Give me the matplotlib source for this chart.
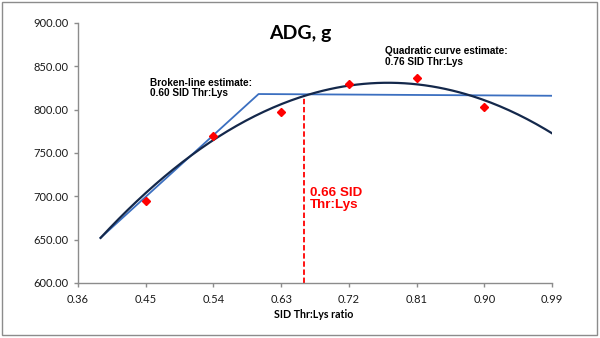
import numpy as np
import matplotlib.pyplot as plt
from matplotlib.patches import Rectangle

# Observed ADG at each SID Thr:Lys ratio
ratio = [0.45, 0.54, 0.63, 0.72, 0.81, 0.90]
adg = [695, 769, 797, 830, 836, 803]

# Broken-line fit (start, breakpoint, end)
bl_x = [0.39, 0.60, 0.99]
bl_y = [652, 818, 816]

# Quadratic fit in vertex form
quad_peak_x = 0.772
quad_peak_y = 831
quad_curv = -1227
quad_range = (0.39, 0.99)

optimum = 0.66
xticks = [0.36, 0.45, 0.54, 0.63, 0.72, 0.81, 0.90, 0.99]
yticks = [600, 650, 700, 750, 800, 850, 900]

fig = plt.figure(figsize=(6, 3.38), dpi=100)
ax = fig.add_axes([0.13, 0.163, 0.79, 0.769])

qx = np.linspace(*quad_range, 200)
qy = quad_curv * (qx - quad_peak_x) ** 2 + quad_peak_y

ax.plot(bl_x, bl_y, color='#3b6fc0', lw=1.3, zorder=2)
ax.plot(qx, qy, color='#14284b', lw=1.6, zorder=3)
ax.plot(ratio, adg, 'D', color='#ff0000', ms=4.2, mec='#ff0000', zorder=4)

# vertical marker at the combined estimate, up to the plateau
ax.plot([optimum, optimum], [600, np.interp(optimum, bl_x, bl_y)],
        color='#ff0000', lw=1.3, ls=(0, (3, 1.5)), zorder=1)

ax.set_xlim(0.36, 0.99)
ax.set_ylim(600, 900)
ax.set_xticks(xticks)
ax.set_xticklabels([f'{t:.2f}' for t in xticks])
ax.set_yticks(yticks)
ax.set_yticklabels([f'{t:.2f}' for t in yticks])

for s in ['top', 'right']:
    ax.spines[s].set_visible(False)
for s in ['left', 'bottom']:
    ax.spines[s].set_color('#8c8c8c')
    ax.spines[s].set_linewidth(1.0)
ax.tick_params(colors='#8c8c8c', length=3, width=1.0, labelcolor='#1a1a1a',
               labelsize=8)
for lab in ax.get_xticklabels() + ax.get_yticklabels():
    lab.set_family('Lato')
ax.tick_params(axis='x', pad=5)

fig.text(0.5, 0.902, 'ADG, g', ha='center', va='center', fontsize=14,
         fontweight='bold', family='Lato')
fig.text(0.523, 0.071, 'SID Thr:Lys ratio', ha='center', va='center',
         fontsize=7.7, fontweight='bold', family='Lato')

ax.text(0.456, 837, 'Broken-line estimate:\n0.60 SID Thr:Lys', ha='left',
        va='top', fontsize=7.2, fontweight='bold', family='Liberation Sans',
        linespacing=1.05)
ax.text(0.768, 873, 'Quadratic curve estimate:\n0.76 SID Thr:Lys', ha='left',
        va='top', fontsize=7.2, fontweight='bold', family='Liberation Sans',
        linespacing=1.05)
ax.text(0.668, 711, f'{optimum:.2f} SID\nThr:Lys', ha='left', va='top',
        fontsize=9.6, fontweight='bold', family='Liberation Sans',
        color='#ff0000', linespacing=1.05)

# outer frame around the chart
fig.patches.append(Rectangle((0.004, 0.008), 0.991, 0.986,
                             transform=fig.transFigure, fill=False,
                             edgecolor='#8c8c8c', lw=1.0))

fig.savefig('out.png', dpi=100)
